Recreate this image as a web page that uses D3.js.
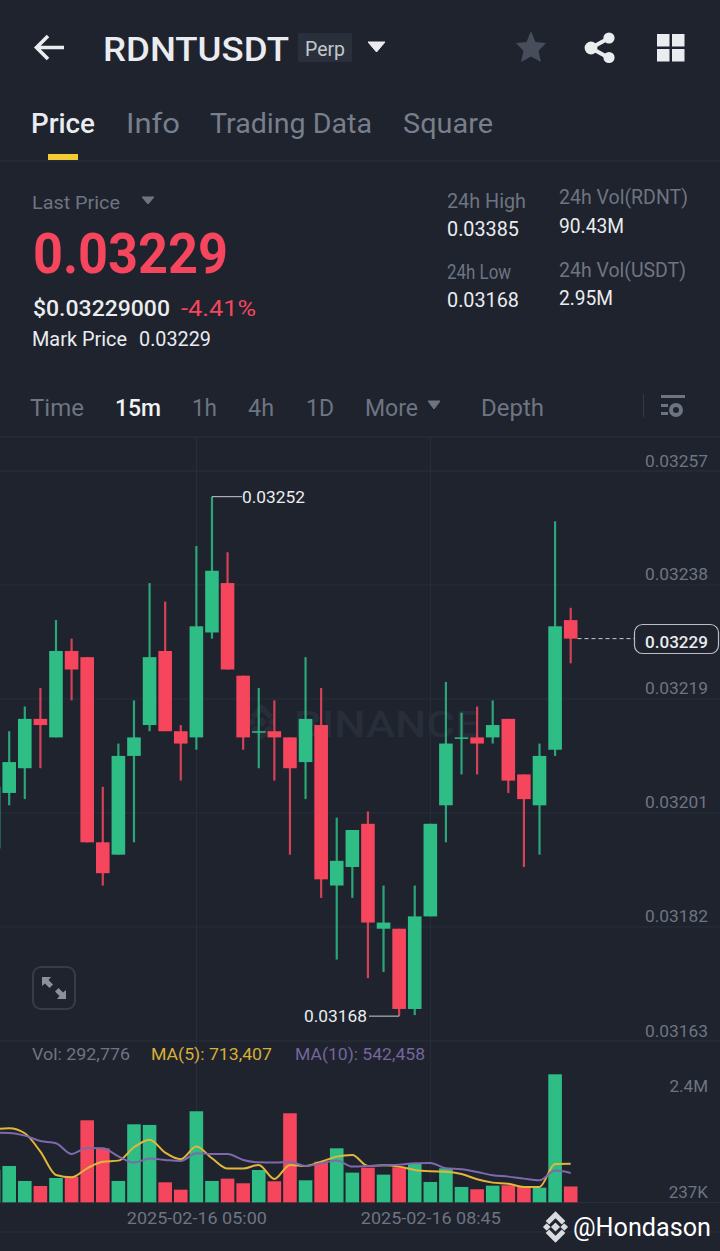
<!DOCTYPE html>
<html lang='en'>
<head>
<meta http-equiv='Content-Type' content='text/html;charset=utf-8'/>
<title>RDNTUSDT Perp</title>
<script src='https://d3js.org/d3.v7.min.js'></script>
<style>
	html, body { margin: 0; padding: 0; background: #1e232e; }
	svg { display: block; }
	text { font-family: Roboto, 'Noto Sans', sans-serif; }
</style>
</head>
<body>
<script>
'use strict'
// first candle sits off the left edge, only its body edge shows
const opens = [0.03195, 0.03204, 0.03208, 0.03216, 0.03213, 0.03227, 0.03226, 0.03196, 0.03194, 0.03210, 0.03215, 0.03227, 0.03214, 0.03213, 0.03230, 0.03238, 0.03223, 0.03214, 0.03214, 0.03213, 0.03209, 0.03215, 0.03189, 0.03192, 0.03199, 0.03182, 0.03182, 0.03169, 0.03184, 0.03202, 0.03213, 0.03213, 0.03213, 0.03216, 0.03207, 0.03202, 0.03211, 0.03232]
const highs = [0.03205, 0.03214, 0.03218, 0.03221, 0.03232, 0.03229, 0.03226, 0.03205, 0.03212, 0.03219, 0.03238, 0.03235, 0.03215, 0.03244, 0.03252, 0.03243, 0.03223, 0.03221, 0.03219, 0.03213, 0.03226, 0.03221, 0.03200, 0.03198, 0.03201, 0.03189, 0.03182, 0.03189, 0.03199, 0.03222, 0.03217, 0.03218, 0.03219, 0.03216, 0.03207, 0.03212, 0.03248, 0.03234]
const lows = [0.03195, 0.03202, 0.03203, 0.03208, 0.03213, 0.03219, 0.03196, 0.03189, 0.03194, 0.03196, 0.03214, 0.03214, 0.03206, 0.03211, 0.03229, 0.03224, 0.03211, 0.03208, 0.03206, 0.03194, 0.03203, 0.03187, 0.03177, 0.03187, 0.03174, 0.03175, 0.03168, 0.03168, 0.03184, 0.03196, 0.03207, 0.03207, 0.03212, 0.03204, 0.03192, 0.03194, 0.03210, 0.03225]
const closes = [0.03205, 0.03209, 0.03216, 0.03215, 0.03227, 0.03224, 0.03196, 0.03191, 0.03210, 0.03213, 0.03226, 0.03214, 0.03212, 0.03231, 0.03240, 0.03224, 0.03213, 0.03214, 0.03213, 0.03208, 0.03216, 0.03190, 0.03193, 0.03198, 0.03183, 0.03183, 0.03169, 0.03184, 0.03199, 0.03212, 0.03213, 0.03212, 0.03215, 0.03206, 0.03203, 0.03210, 0.03231, 0.03229]
const volumes = [600000, 672000, 395000, 302000, 450000, 475000, 1517000, 999000, 395000, 1443000, 1431000, 370000, 234000, 1684000, 395000, 438000, 352000, 598000, 389000, 1647000, 407000, 752000, 999000, 549000, 641000, 512000, 648000, 722000, 376000, 629000, 284000, 241000, 308000, 315000, 284000, 271000, 2368000, 292776]
const ma5 = [1351000, 1369000, 1277000, 937000, 506000, 463000, 629000, 752000, 771000, 1018000, 1159000, 919000, 796000, 1030000, 814000, 623000, 623000, 691000, 432000, 691000, 672000, 752000, 845000, 876000, 672000, 685000, 660000, 598000, 574000, 567000, 524000, 426000, 364000, 345000, 284000, 284000, 709000, 713407]
const ma10 = [1289000, 1283000, 1233000, 1135000, 1092000, 894000, 1005000, 999000, 851000, 734000, 808000, 783000, 765000, 907000, 894000, 894000, 783000, 740000, 734000, 746000, 672000, 722000, 771000, 660000, 672000, 685000, 697000, 722000, 728000, 629000, 611000, 561000, 500000, 475000, 438000, 407000, 586000, 542458]

const priceTicks = [0.0325616, 0.0323770, 0.0321923, 0.0320076, 0.0318229, 0.0316381]
const priceLabels = ['0.03257', '0.03238', '0.03219', '0.03201', '0.03182', '0.03163']
const volumeTicks = [2400000, 237000]
const volumeLabels = ['2.4M', '237K']
const timeTicks = [13, 28]
const timeLabels = ['2025-02-16 05:00', '2025-02-16 08:45']
const intervals = ['Time', '15m', '1h', '4h', '1D', 'More', 'Depth']
const tabs = ['Price', 'Info', 'Trading Data', 'Square']

const BG = '#1e232e'
const GREEN = '#2ebd85'
const RED = '#f6465d'
const GRID = '#2a303b'
const WHITE = '#eaecef'
const GREY = '#6e7582'

const svg = d3.select('body').append('svg')
	.attr('width', 720)
	.attr('height', 1251)

svg.append('rect')
	.attr('width', '100%')
	.attr('height', '100%')
	.attr('fill', BG)

const x = d3.scaleLinear().domain([0, 37]).range([-6.4, 570.7])
const y = d3.scaleLinear().domain([priceTicks[5], priceTicks[0]]).range([1041, 471])
const yVol = d3.scaleLinear().domain([0, 2368000]).range([1202.3, 1074.3])
const yVolLabel = d3.scaleLinear().domain(volumeTicks).range([1091, 1197])
const bodyWidth = 13.6

function label(s, px, py, size, color, o)
{
	o = o || {}
	const t = svg.append('text')
		.attr('x', px)
		.attr('y', py)
		.attr('font-size', size)
		.attr('fill', color)
		.attr('font-weight', o.weight || 400)
		.attr('text-anchor', o.anchor || 'start')
		.text(s)
	if (o.width)
		t.attr('textLength', o.width).attr('lengthAdjust', 'spacingAndGlyphs')
	return t
}

function triangle(x0, x1, y0, y1, color)
{
	svg.append('path')
		.attr('d', 'M' + x0 + ' ' + y0 + 'L' + x1 + ' ' + y0 + 'L' + (x0 + x1) / 2 + ' ' + y1 + 'Z')
		.attr('fill', color)
		.attr('stroke', color)
		.attr('stroke-linejoin', 'round')
}

function logo(cx, cy, s, color)
{
	const g = svg.append('g')
		.attr('transform', 'translate(' + cx + ',' + cy + ') scale(' + s + ')')
		.attr('fill', color)
	g.append('path').attr('d', 'M0 -2.6L2.6 0L0 2.6L-2.6 0Z')
	g.append('path').attr('d', 'M-7.2 0L-5 -2.2L-2.8 0L-5 2.2Z')
	g.append('path').attr('d', 'M7.2 0L5 -2.2L2.8 0L5 2.2Z')
	g.append('path').attr('d', 'M0 -9L5.6 -3.4L3.6 -1.4L0 -5L-3.6 -1.4L-5.6 -3.4Z')
	g.append('path').attr('d', 'M0 9L5.6 3.4L3.6 1.4L0 5L-3.6 1.4L-5.6 3.4Z')
}

// header
svg.append('path')
	.attr('d', 'M64 47.5L37 47.5M48 36L36.5 47.5L48 59')
	.attr('fill', 'none')
	.attr('stroke', WHITE)
	.attr('stroke-width', 3.6)
label('RDNTUSDT', 103, 61, 33, WHITE, {weight: 500, width: 186})
svg.append('rect').attr('x', 298).attr('y', 33).attr('width', 54).attr('height', 29).attr('rx', 2).attr('fill', '#2a303b')
label('Perp', 305, 56, 20, '#c4c8ce', {width: 40})
triangle(368, 385, 42, 52, WHITE)
svg.append('path')
	.attr('d', 'M531 31L535.5 42L546 43L538.5 51L541 62L531 56.5L521 62L523.5 51L516 43L526.5 42Z')
	.attr('fill', '#474d5a')
svg.append('path')
	.attr('d', 'M609 38L591 48L609 58')
	.attr('fill', 'none')
	.attr('stroke', WHITE)
	.attr('stroke-width', 4)
;[[609, 38, 5.6], [591, 48, 6.4], [609, 57.5, 5.6]].forEach(function(c) {
	svg.append('circle').attr('cx', c[0]).attr('cy', c[1]).attr('r', c[2]).attr('fill', WHITE)
})
;[[657, 34], [672, 34], [657, 49], [672, 49]].forEach(function(c) {
	svg.append('rect').attr('x', c[0]).attr('y', c[1]).attr('width', 12.5).attr('height', 12.5).attr('fill', WHITE)
})

// tabs
const tabX = [31, 126, 210, 403]
const tabW = [64, 54, 162, 90]
tabs.forEach(function(t, i) {
	label(t, tabX[i], 133, 28, i == 0 ? WHITE : '#787f8c', {weight: i == 0 ? 500 : 400, width: tabW[i]})
})
svg.append('rect').attr('x', 48).attr('y', 154).attr('width', 30).attr('height', 6).attr('fill', '#f0cb35')
svg.append('rect').attr('x', 0).attr('y', 160.5).attr('width', 720).attr('height', 1).attr('fill', GRID)

// price block
label('Last Price', 32, 209, 19, GREY, {width: 88})
triangle(142, 154, 197, 204, GREY)
label('0.03229', 33, 273, 55, RED, {weight: 700, width: 195})
label('$0.03229000', 33, 316, 22, WHITE, {weight: 500, width: 137})
label('-4.41%', 181, 316, 22, RED, {width: 75})
label('Mark Price', 32, 346, 19.5, WHITE, {width: 95})
label('0.03229', 139, 346, 19.5, WHITE, {width: 72})
label('24h High', 447, 208, 20, GREY, {width: 79})
label('0.03385', 447, 236, 19.5, WHITE, {width: 72})
label('24h Low', 447, 279, 20, GREY, {width: 64})
label('0.03168', 447, 307, 19.5, WHITE, {width: 72})
label('24h Vol(RDNT)', 559, 204, 20, GREY, {width: 129})
label('90.43M', 559, 233, 19.5, WHITE, {width: 65})
label('24h Vol(USDT)', 559, 277, 20, GREY, {width: 127})
label('2.95M', 559, 305, 19.5, WHITE, {width: 54})

// interval row
const intX = [30, 115, 192, 248, 306, 365, 481]
const intW = [54, 46, 25, 26, 28, 53, 63]
intervals.forEach(function(t, i) {
	label(t, intX[i], 416, 24, i == 1 ? '#f2f3f5' : GREY, {weight: i == 1 ? 500 : 400, width: intW[i]})
})
triangle(428, 440, 401, 409, GREY)
svg.append('rect').attr('x', 643).attr('y', 394).attr('width', 1).attr('height', 23).attr('fill', '#333a45')
svg.append('rect').attr('x', 661).attr('y', 395).attr('width', 24).attr('height', 3).attr('fill', GREY)
svg.append('rect').attr('x', 661).attr('y', 404).attr('width', 7).attr('height', 3).attr('fill', GREY)
svg.append('rect').attr('x', 661).attr('y', 412).attr('width', 7).attr('height', 3).attr('fill', GREY)
svg.append('circle').attr('cx', 676).attr('cy', 410).attr('r', 5).attr('fill', 'none').attr('stroke', GREY).attr('stroke-width', 4)

// frame lines
;[437, 1202.5, 1232].forEach(function(v) {
	svg.append('rect').attr('x', 0).attr('y', v - 0.5).attr('width', 720).attr('height', 1).attr('fill', GRID)
})

// watermark goes below the candles
logo(262, 722, 2, '#282e39')
label('BINANCE', 294, 737, 36, '#282e39', {weight: 500, width: 186})

// grid + axes
const gridG = svg.append('g')
gridG.selectAll('line.h').data(priceTicks).join('line')
	.attr('class', 'h')
	.attr('x1', 0).attr('x2', 720)
	.attr('y1', function(d) { return y(d) }).attr('y2', function(d) { return y(d) })
	.attr('stroke', GRID)
gridG.selectAll('line.v').data(timeTicks).join('line')
	.attr('class', 'v')
	.attr('x1', function(d) { return x(d) }).attr('x2', function(d) { return x(d) })
	.attr('y1', 437).attr('y2', 1202)
	.attr('stroke', GRID)

const priceAxis = d3.axisRight(y)
	.tickValues(priceTicks)
	.tickSize(0)
	.tickFormat(function(d, i) { return priceLabels[i] })
svg.append('g')
	.attr('transform', 'translate(708,0)')
	.call(priceAxis)
	.call(function(g) { g.select('.domain').remove() })
	.selectAll('text')
	.attr('x', 0)
	.attr('dy', -5)
	.attr('text-anchor', 'end')
	.attr('font-size', 17)
	.attr('textLength', 63)
	.attr('lengthAdjust', 'spacingAndGlyphs')
	.attr('fill', GREY)

const volumeAxis = d3.axisRight(yVolLabel)
	.tickValues(volumeTicks)
	.tickSize(0)
	.tickFormat(function(d, i) { return volumeLabels[i] })
svg.append('g')
	.attr('transform', 'translate(708,0)')
	.call(volumeAxis)
	.call(function(g) { g.select('.domain').remove() })
	.selectAll('text')
	.attr('x', 0)
	.attr('dy', 0)
	.attr('text-anchor', 'end')
	.attr('font-size', 17)
	.attr('fill', GREY)

const timeAxis = d3.axisBottom(x)
	.tickValues(timeTicks)
	.tickSize(0)
	.tickFormat(function(d, i) { return timeLabels[i] })
svg.append('g')
	.attr('transform', 'translate(0,1224)')
	.call(timeAxis)
	.call(function(g) { g.select('.domain').remove() })
	.selectAll('text')
	.attr('y', 0)
	.attr('dy', 0)
	.attr('font-size', 17)
	.attr('textLength', 140)
	.attr('lengthAdjust', 'spacingAndGlyphs')
	.attr('fill', GREY)

// candles
const candles = d3.range(opens.length)
const isUp = function(i) { return closes[i] >= opens[i] }
const tone = function(i) { return isUp(i) ? GREEN : RED }

svg.append('g').selectAll('line').data(candles).join('line')
	.attr('x1', function(i) { return x(i) })
	.attr('x2', function(i) { return x(i) })
	.attr('y1', function(i) { return y(highs[i]) })
	.attr('y2', function(i) { return y(lows[i]) })
	.attr('stroke', tone)
	.attr('stroke-opacity', 0.85)
	.attr('stroke-width', 2.2)

svg.append('g').selectAll('rect').data(candles).join('rect')
	.attr('x', function(i) { return x(i) - bodyWidth / 2 })
	.attr('width', bodyWidth)
	.attr('y', function(i) { return y(Math.max(opens[i], closes[i])) })
	.attr('height', function(i) { return Math.max(1.5, Math.abs(y(opens[i]) - y(closes[i]))) })
	.attr('fill', tone)

// volume
svg.append('g').selectAll('rect').data(candles).join('rect')
	.attr('x', function(i) { return x(i) - bodyWidth / 2 })
	.attr('width', bodyWidth)
	.attr('y', function(i) { return yVol(volumes[i]) })
	.attr('height', function(i) { return yVol(0) - yVol(volumes[i]) })
	.attr('fill', tone)

const maLine = d3.line()
	.x(function(d, i) { return x(i) })
	.y(function(d) { return yVol(d) })
	.curve(d3.curveMonotoneX)

svg.append('path').attr('d', maLine(ma5)).attr('fill', 'none').attr('stroke', '#e2b63a').attr('stroke-width', 2)
svg.append('path').attr('d', maLine(ma10)).attr('fill', 'none').attr('stroke', '#7d69ab').attr('stroke-width', 2)

label('Vol: 292,776', 32, 1060, 17, GREY, {width: 98})
label('MA(5): 713,407', 151, 1060, 17, '#d9ae36', {width: 121})
label('MA(10): 542,458', 295, 1060, 17, '#76659f', {width: 130})

// high / low callouts
const iHigh = highs.indexOf(d3.max(highs))
const iLow = lows.indexOf(d3.min(lows))
svg.append('path')
	.attr('d', 'M' + x(iHigh) + ' ' + y(highs[iHigh]) + 'L242 ' + y(highs[iHigh]))
	.attr('stroke', '#c9ccd1').attr('fill', 'none')
label('0.03252', 242, 503, 17, WHITE, {width: 63})
svg.append('path')
	.attr('d', 'M369 ' + (y(lows[iLow]) + 1) + 'L' + x(iLow) + ' ' + (y(lows[iLow]) + 1) + 'L' + x(iLow) + ' ' + y(lows[iLow]))
	.attr('stroke', '#c9ccd1').attr('fill', 'none')
label('0.03168', 304, 1022, 17, WHITE, {width: 63})

// last price tag
const lastY = y(closes[closes.length - 1])
svg.append('line')
	.attr('x1', x(37) + bodyWidth / 2).attr('x2', 634)
	.attr('y1', lastY).attr('y2', lastY)
	.attr('stroke', '#c9ccd1')
	.attr('stroke-dasharray', '4 3')
svg.append('rect')
	.attr('x', 634.5).attr('y', 624.5)
	.attr('width', 84).attr('height', 29).attr('rx', 8)
	.attr('fill', BG).attr('stroke', '#b9bdc4').attr('stroke-width', 1.2)
label('0.03229', 645, 648, 17, WHITE, {weight: 500, width: 63})

// expand button
svg.append('rect')
	.attr('x', 33).attr('y', 967).attr('width', 42).attr('height', 42).attr('rx', 8)
	.attr('fill', 'none').attr('stroke', '#363c48').attr('stroke-width', 2)
svg.append('path').attr('d', 'M42 977L51 977L48.5 980L53 984.5L49.5 988L45 983.5L42 986Z').attr('fill', '#8a919d')
svg.append('path').attr('d', 'M66 999L57 999L59.5 996L55 991.5L58.5 988L63 992.5L66 990Z').attr('fill', '#8a919d')

// bottom right stamp
logo(555.5, 1227, 1.75, '#d9dbde')
label('@Hondason', 573, 1236, 25, '#ffffff', {width: 138})
</script>
</body>
</html>
